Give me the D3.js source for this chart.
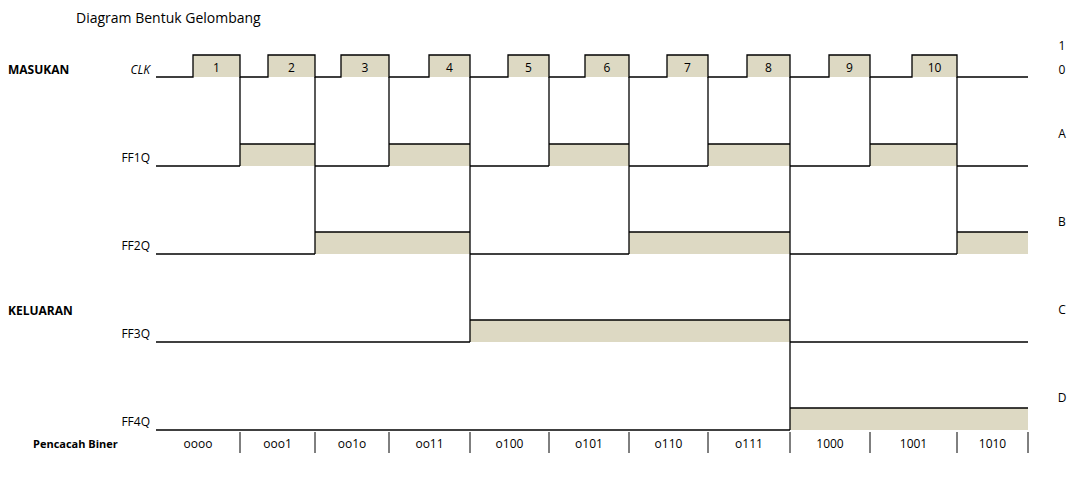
<!DOCTYPE html>
<html><head><meta charset="utf-8">
<script src="https://cdn.jsdelivr.net/npm/d3@7/dist/d3.min.js"></script>
<style>body{margin:0;background:#fff}text{font-family:"Open Sans","Noto Sans",sans-serif}</style>
</head><body><svg id="c" width="1080" height="484"></svg>
<script>
// time: pulse k rises at k-0.5, falls at k
const timeKnots = [0,0.5,1,1.5,2,2.5,3,3.5,4,4.5,5,5.5,6,6.5,7,7.5,8,8.5,9,9.5,10,11];
const clkPulses = [1,2,3,4,5,6,7,8,9,10];
const counts = ["oooo","ooo1","oo1o","oo11","o100","o101","o110","o111","1000","1001","1010"];
const ff1 = [0,1,0,1,0,1,0,1,0,1,0];
const ff2 = [0,0,1,1,0,0,1,1,0,0,1];
const ff3 = [0,0,0,0,1,1,1,1,0,0,0];
const ff4 = [0,0,0,0,0,0,0,0,1,1,1];
const rowNames = ["FF1Q","FF2Q","FF3Q","FF4Q"];
const rowLetters = ["A","B","C","D"];

const svg = d3.select("#c");
const x = d3.scaleLinear().domain(timeKnots)
  .range([156,193,240,268,315,341,389,429,470,508,549,585,629,667,708,747,790,829,870,912,957,1028]);
const fill = "#ddd9c3", ink = "#000";
const rowLow = [77,166,254,342,430], amp = 22;

const gFill = svg.append("g"), gLine = svg.append("g"), gText = svg.append("g");

// CLK
clkPulses.forEach(k=>{
  gFill.append("rect").attr("x",x(k-0.5)).attr("y",rowLow[0]-amp).attr("width",x(k)-x(k-0.5)).attr("height",amp).attr("fill",fill);
  gText.append("text").attr("x",(x(k-0.5)+x(k))/2).attr("y",rowLow[0]-5).attr("text-anchor","middle").attr("font-size",12).text(k);
});
let clkPath = d3.path();
clkPath.moveTo(x(0),rowLow[0]);
clkPulses.forEach(k=>{
  clkPath.lineTo(x(k-0.5),rowLow[0]);clkPath.lineTo(x(k-0.5),rowLow[0]-amp);
  clkPath.lineTo(x(k),rowLow[0]-amp);clkPath.lineTo(x(k),rowLow[0]);
});
clkPath.lineTo(x(11),rowLow[0]);
gLine.append("path").attr("d",clkPath.toString()).attr("fill","none").attr("stroke",ink).attr("stroke-width",1.3);

// FF rows
[ff1,ff2,ff3,ff4].forEach((st,r)=>{
  const low = rowLow[r+1], high = low-amp;
  st.forEach((s,k)=>{
    const x0=x(k), x1=x(k+1);
    if(s){
      gFill.append("rect").attr("x",x0).attr("y",high).attr("width",x1-x0).attr("height",amp).attr("fill",fill);
      gLine.append("line").attr("x1",x0).attr("x2",x1).attr("y1",high).attr("y2",high).attr("stroke",ink).attr("stroke-width",1.3);
    } else {
      gLine.append("line").attr("x1",x0).attr("x2",x1).attr("y1",low).attr("y2",low).attr("stroke",ink).attr("stroke-width",1.3);
    }
    if(k>0 && st[k-1]!==s){
      gLine.append("line").attr("x1",x0).attr("x2",x0).attr("y1",rowLow[r]).attr("y2",low).attr("stroke",ink).attr("stroke-width",1.3);
    }
  });
  gText.append("text").attr("x",150).attr("y",low-4).attr("text-anchor","end").attr("font-size",12).text(rowNames[r]);
  gText.append("text").attr("x",1062).attr("y",high-6).attr("text-anchor","middle").attr("font-size",12).text(rowLetters[r]);
});

// counter row
counts.forEach((c,k)=>{
  gText.append("text").attr("x",(x(k)+x(k+1))/2).attr("y",448).attr("text-anchor","middle").attr("font-size",12).text(c);
  if(k>0) gLine.append("line").attr("x1",x(k)).attr("x2",x(k)).attr("y1",432).attr("y2",453).attr("stroke",ink).attr("stroke-width",1);
});
gLine.append("line").attr("x1",x(11)).attr("x2",x(11)).attr("y1",432).attr("y2",453).attr("stroke",ink).attr("stroke-width",1);

gText.append("text").attr("x",76).attr("y",23).attr("font-size",14).text("Diagram Bentuk Gelombang");
gText.append("text").attr("x",8).attr("y",74).attr("font-size",12).attr("font-weight","bold").text("MASUKAN");
gText.append("text").attr("x",150).attr("y",74).attr("text-anchor","end").attr("font-size",12).attr("font-style","italic").text("CLK");
gText.append("text").attr("x",8).attr("y",315).attr("font-size",12).attr("font-weight","bold").text("KELUARAN");
gText.append("text").attr("x",33).attr("y",448).attr("font-size",11).attr("font-weight","bold").text("Pencacah Biner");
gText.append("text").attr("x",1062).attr("y",50).attr("text-anchor","middle").attr("font-size",12).text("1");
gText.append("text").attr("x",1062).attr("y",74).attr("text-anchor","middle").attr("font-size",12).text("0");
</script></body></html>
